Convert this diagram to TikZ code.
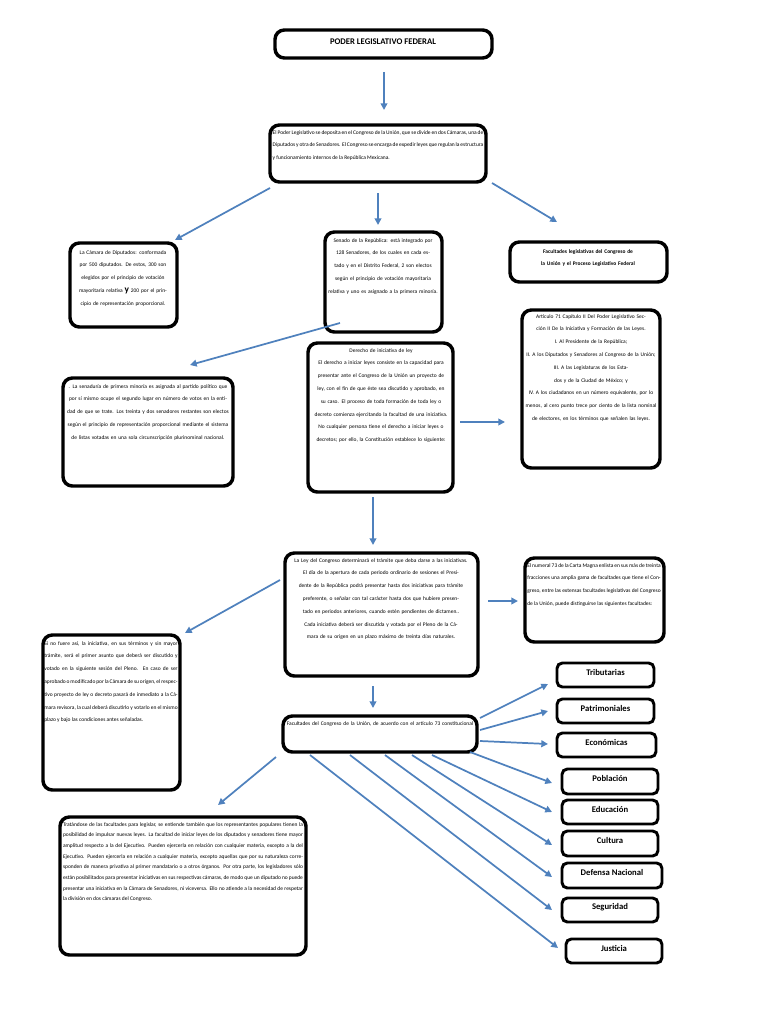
\documentclass[tikz,border=0pt]{standalone}
\usepackage{fontspec}
\setmainfont{Carlito}
\usetikzlibrary{fit,arrows.meta}
\tikzset{
 box/.style={draw=black,line width=2.6pt,rounded corners=7pt,inner sep=0pt},
 txt/.style={anchor=north,align=center,inner sep=0pt,font=\fontsize{4.1}{9.6}\selectfont},
 jtxt/.style={anchor=north,align=justify,inner sep=0pt,font=\fontsize{4.1}{9.6}\selectfont},
 lab/.style={font=\fontsize{6.5}{8}\selectfont\bfseries},
 arr/.style={draw=blue!45!cyan!60!black!80,color={rgb,255:red,79;green,129;blue,189},line width=1.3pt,-{Triangle[length=5pt,width=5pt]}}
}
\begin{document}
\begin{tikzpicture}[x=0.75pt,y=-0.75pt]
\useasboundingbox (0,0) rectangle (768,1024);
% title
\node[box,fit={(275,30)(492,58)}] (title) {};
\node[lab,anchor=north] at (383,34) {PODER LEGISLATIVO FEDERAL};
% intro
\node[box,fit={(270,125)(486,182)}] (intro) {};
\node[jtxt,text width=158pt] at (378,130) {El Poder Legislativo se deposita en el Congreso de la Unión, que se divide en dos Cámaras, una de Diputados y otra de Senadores. El Congreso se encarga de expedir leyes que regulan la estructura y funcionamiento internos de la República Mexicana.};
% diputados
\node[box,fit={(70,243)(177,327)}] (dip) {};
\node[txt,text width=74pt] at (123,250) {La Cámara de Diputados: conformada por 500 diputados. De estos, 300 son elegidos por el principio de votación mayoritaria relativa {\fontsize{7}{7}\selectfont\bfseries y} 200 por el principio de representación proporcional.};
% senado
\node[box,fit={(325,232)(442,332)}] (sen) {};
\node[txt,text width=86pt] at (383,238) {Senado de la República: está integrado por 128 Senadores, de los cuales en cada estado y en el Distrito Federal, 2 son electos según el principio de votación mayoritaria relativa y uno es asignado a la primera minoría.};
% facultades header
\node[box,fit={(510,242)(667,282)}] (fach) {};
\node[txt,text width=112pt,font=\fontsize{4.1}{9.6}\selectfont\bfseries] at (588,249) {Facultades legislativas del Congreso de la Unión y el Proceso Legislativo Federal};
% articulo 71
\node[box,fit={(522,310)(660,468)}] (art) {};
\node[txt,text width=102pt] at (591,314) {Artículo 71 Capítulo II Del Poder Legislativo Sección II De la Iniciativa y Formación de las Leyes.\\ I. Al Presidente de la República;\\ II. A los Diputados y Senadores al Congreso de la Unión;\\ III. A las Legislaturas de los Estados y de la Ciudad de México; y\\ IV. A los ciudadanos en un número equivalente, por lo menos, al cero punto trece por ciento de la lista nominal de electores, en los términos que señalen las leyes.};
% senaduria
\node[box,fit={(63,378)(233,486)}] (snd) {};
\node[txt,text width=122pt] at (148,384) {. La senaduría de primera minoría es asignada al partido político que por sí mismo ocupe el segundo lugar en número de votos en la entidad de que se trate. Los treinta y dos senadores restantes son electos según el principio de representación proporcional mediante el sistema de listas votadas en una sola circunscripción plurinominal nacional.};
% derecho
\node[box,fit={(308,343)(453,492)}] (der) {};
\node[txt,text width=106pt] at (381,348) {Derecho de iniciativa de ley\\ El derecho a iniciar leyes consiste en la capacidad para presentar ante el Congreso de la Unión un proyecto de ley, con el fin de que éste sea discutido y aprobado, en su caso. El proceso de toda formación de toda ley o decreto comienza ejercitando la facultad de una iniciativa. No cualquier persona tiene el derecho a iniciar leyes o decretos; por ello, la Constitución establece lo siguiente:};
% ley del congreso
\node[box,fit={(285,553)(478,676)}] (ley) {};
\node[txt,text width=140pt] at (381,558) {La Ley del Congreso determinará el trámite que deba darse a las iniciativas.\\ El día de la apertura de cada periodo ordinario de sesiones el Presidente de la República podrá presentar hasta dos iniciativas para trámite preferente, o señalar con tal carácter hasta dos que hubiere presentado en periodos anteriores, cuando estén pendientes de dictamen.. Cada iniciativa deberá ser discutida y votada por el Pleno de la Cámara de su origen en un plazo máximo de treinta días naturales.};
% numeral
\node[box,fit={(525,558)(664,642)}] (num) {};
\node[jtxt,text width=100pt] at (594,563) {El numeral 73 de la Carta Magna enlista en sus más de treinta fracciones una amplia gama de facultades que tiene el Congreso, entre las extensas facultades legislativas del Congreso de la Unión, puede distinguirse las siguientes facultades:};
% si no fuere
\node[box,fit={(43,635)(180,790)}] (sino) {};
\node[jtxt,text width=100pt] at (111,641) {Si no fuere así, la iniciativa, en sus términos y sin mayor trámite, será el primer asunto que deberá ser discutido y votado en la siguiente sesión del Pleno. En caso de ser aprobado o modificado por la Cámara de su origen, el respectivo proyecto de ley o decreto pasará de inmediato a la Cámara revisora, la cual deberá discutirlo y votarlo en el mismo plazo y bajo las condiciones antes señaladas.};
% facultades 73
\node[box,fit={(283,716)(477,752)}] (f73) {};
\node[txt,text width=140pt] at (380,721) {Facultades del Congreso de la Unión, de acuerdo con el artículo 73 constitucional};
% tratandose
\node[box,fit={(60,817)(306,955)}] (trat) {};
\node[jtxt,text width=180pt,font=\fontsize{4.1}{8.0}\selectfont] at (183,822) {Tratándose de las facultades para legislar, se entiende también que los representantes populares tienen la posibilidad de impulsar nuevas leyes. La facultad de iniciar leyes de los diputados y senadores tiene mayor amplitud respecto a la del Ejecutivo. Pueden ejercerla en relación con cualquier materia, excepto a la del Ejecutivo. Pueden ejercerla en relación a cualquier materia, excepto aquellas que por su naturaleza corresponden de manera privativa al primer mandatario o a otros órganos. Por otra parte, los legisladores sólo están posibilitados para presentar iniciativas en sus respectivas cámaras, de modo que un diputado no puede presentar una iniciativa en la Cámara de Senadores, ni viceversa. Ello no atiende a la necesidad de respetar la división en dos cámaras del Congreso.};
% small boxes
\foreach \n/\a/\b/\c/\d/\t in {tri/557/663/654/687/Tributarias, pat/557/699/654/723/Patrimoniales, eco/557/733/656/757/Económicas, pob/562/769/658/794/Población, edu/562/800/658/824/Educación, cul/562/831/658/856/Cultura, def/562/863/662/888/Defensa Nacional, seg/562/898/658/922/Seguridad, jus/566/939/662/963/Justicia}{
 \node[box,line width=2.2pt,rounded corners=4pt,fit={(\a,\b)(\c,\d)}] (\n) {};
 \node[lab] at ([yshift=2pt]\n.center) {\t};
}
% arrows
\draw[arr] (384,72) -- (384,110);
\draw[arr] (270,188) -- (175,240);
\draw[arr] (378,193) -- (378,225);
\draw[arr] (492,183) -- (557,222);
\draw[arr] (340,323) -- (190,365);
\draw[arr] (460,422) -- (505,422);
\draw[arr] (373,497) -- (373,545);
\draw[arr] (280,580) -- (185,633);
\draw[arr] (488,601) -- (518,601);
\draw[arr] (373,686) -- (373,708);
\draw[arr] (276,757) -- (218,805);
\draw[arr] (480,718) -- (548,684);
\draw[arr] (480,730) -- (548,711);
\draw[arr] (480,741) -- (548,744);
\draw[arr] (470,752) -- (552,783);
\draw[arr] (432,755) -- (552,812);
\draw[arr] (412,755) -- (552,845);
\draw[arr] (385,755) -- (552,877);
\draw[arr] (350,755) -- (552,910);
\draw[arr] (310,755) -- (558,948);
\end{tikzpicture}
\end{document}
